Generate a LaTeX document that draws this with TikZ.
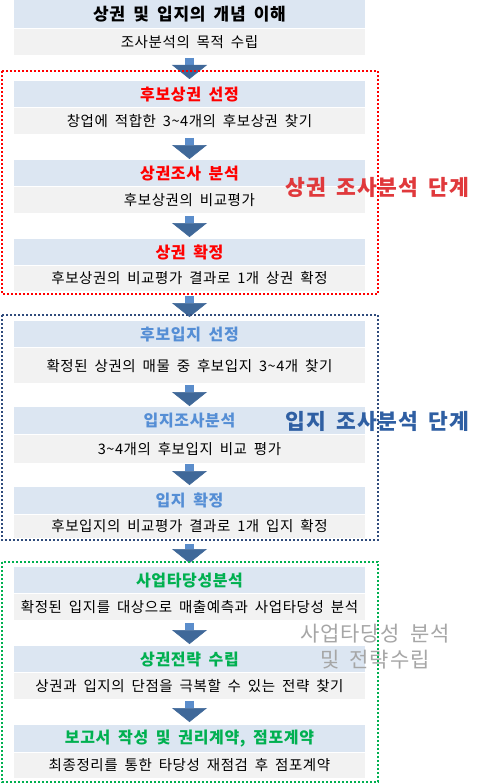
\documentclass[tikz,border=0pt]{standalone}
\usepackage{fontspec}
\setmainfont[LetterSpace=4,WordSpace=1.8]{Noto Sans CJK KR}
\usetikzlibrary{arrows.meta}
\definecolor{hdr}{HTML}{DCE6F2}
\definecolor{bdy}{HTML}{F2F2F2}
\definecolor{redc}{HTML}{FF0000}
\definecolor{bluec}{HTML}{558ED5}
\definecolor{greenc}{HTML}{00B050}
\definecolor{arrlight}{HTML}{5B8DCB}
\definecolor{arrdark}{HTML}{3F6899}
\definecolor{navydot}{HTML}{2F4B7C}
\definecolor{redlab}{HTML}{E0393C}
\definecolor{bluelab}{HTML}{2F5FA3}
\definecolor{graylab}{HTML}{A6A6A6}
\begin{document}
\begin{tikzpicture}[x=1pt,y=-1pt,
  hd/.style={fill=hdr, minimum width=351pt, minimum height=26pt, inner sep=0pt, anchor=north,
    font=\fontsize{16}{18}\selectfont\bfseries},
  bd/.style={fill=bdy, minimum width=351pt, minimum height=26pt, inner sep=0pt, anchor=north,
    font=\fontsize{14.5}{16}\selectfont},
  hred/.style={hd, text=redc},
  hblue/.style={hd, text=bluec},
  hgreen/.style={hd, text=greenc},
  bigarr/.style={line width=9.5pt, color=arrlight,
    -{Triangle[width=35pt,length=14pt,color=arrdark,line width=0.5pt]}},
  dotbox/.style={line width=2pt, dash pattern=on 2pt off 2pt},
  sidelab/.style={font=\fontsize{21.5}{24}\selectfont\bfseries, inner sep=0pt},
  graylabel/.style={font=\fontsize{21}{26}\selectfont, text=graylab, align=center, inner sep=0pt}
]
\useasboundingbox (0,0) rectangle (487,784);
\fill[white] (0,0) rectangle (487,784);

% group 0
\node[hd, minimum height=28pt, font=\fontsize{17}{19}\selectfont\bfseries] (h1) at (189.5,0) {상권 및 입지의 개념 이해};
\node[bd] (b1) at (h1.south) {조사분석의 목적 수립};

% red group
\node[hred] (h2) at (189.5,81) {후보상권 선정};
\node[bd] (b2) at (h2.south) {창업에 적합한 3\textasciitilde4개의 후보상권 찾기};
\node[hred] (h3) at (189.5,160) {상권조사 분석};
\node[bd] (b3) at (h3.south) {후보상권의 비교평가};
\node[hred] (h4) at (189.5,239) {상권 확정};
\node[bd, minimum height=25pt] (b4) at (h4.south) {후보상권의 비교평가 결과로 1개 상권 확정};

% blue group
\node[hblue] (h5) at (189.5,321) {후보입지 선정};
\node[bd, minimum height=35pt, text depth=-6pt] (b5) at (h5.south) {확정된 상권의 매물 중 후보입지 3\textasciitilde4개 찾기};
\node[hblue, minimum height=27pt] (h6) at (189.5,407) {입지조사분석};
\node[bd, minimum height=28pt] (b6) at (h6.south) {3\textasciitilde4개의 후보입지 비교 평가};
\node[hblue, minimum height=27pt] (h7) at (189.5,487) {입지 확정};
\node[bd, minimum height=23pt] (b7) at (h7.south) {후보입지의 비교평가 결과로 1개 입지 확정};

% green group
\node[hgreen] (h8) at (189.5,567) {사업타당성분석};
\node[bd] (b8) at (h8.south) {확정된 입지를 대상으로 매출예측과 사업타당성 분석};
\node[hgreen] (h9) at (189.5,646) {상권전략 수립};
\node[bd] (b9) at (h9.south) {상권과 입지의 단점을 극복할 수 있는 전략 찾기};
\node[hgreen, minimum height=27pt] (h10) at (189.5,725) {보고서 작성 및 권리계약, 점포계약};
\node[bd, minimum height=25pt] (b10) at (h10.south) {최종정리를 통한 타당성 재점검 후 점포계약};

% arrows
\draw[bigarr] ([yshift=-3pt]b1.south) -- ([yshift=2pt]h2.north);
\draw[bigarr] ([yshift=-4pt]b2.south) -- ([yshift=1pt]h3.north);
\draw[bigarr] ([yshift=-3pt]b3.south) -- ([yshift=2pt]h4.north);
\draw[bigarr] ([yshift=-5pt]b4.south) -- ([yshift=4pt]h5.north);
\draw[bigarr] ([yshift=-2pt]b5.south) -- ([yshift=1pt]h6.north);
\draw[bigarr] ([yshift=-1pt]b6.south) -- ([yshift=2pt]h7.north);
\draw[bigarr] ([yshift=-6pt]b7.south) -- ([yshift=4pt]h8.north);
\draw[bigarr] ([yshift=-3pt]b8.south) -- ([yshift=2pt]h9.north);
\draw[bigarr] ([yshift=-2pt]b9.south) -- ([yshift=3pt]h10.north);

% side labels (under the frames)
\node[sidelab, text=redlab] (lab1) at (377.5,187) {상권 조사분석 단계};
\node[sidelab, text=bluelab] (lab2) at (377.5,421) {입지 조사분석 단계};
\node[graylabel] (lab3) at (375,647) {사업타당성 분석\\및 전략수립};

% dotted group frames
\draw[dotbox, redc] (2,71) rectangle (378,294);
\draw[dotbox, navydot] (2,315) rectangle (378,540);
\draw[dotbox, greenc] (2,562) rectangle (378,782);
\end{tikzpicture}
\end{document}
